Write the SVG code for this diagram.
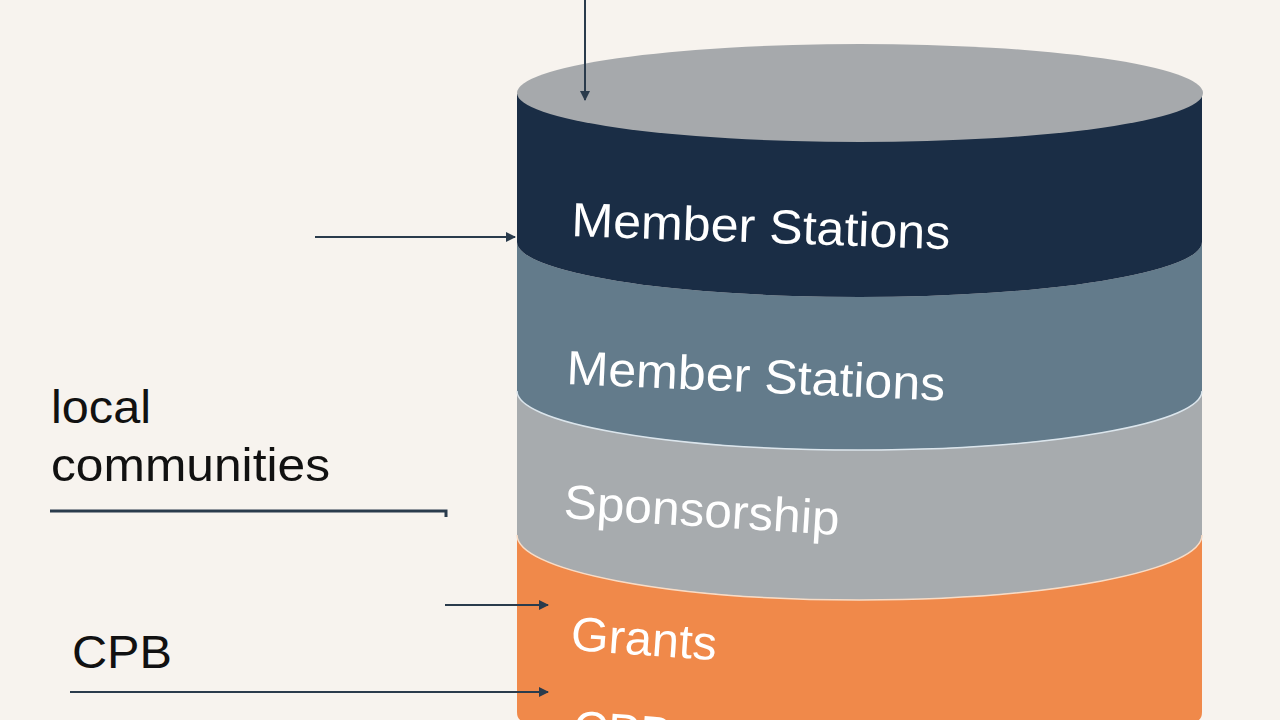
<svg xmlns="http://www.w3.org/2000/svg" width="1280" height="720" viewBox="0 0 1280 720">
<defs>
<marker id="ah" viewBox="0 0 10 10" refX="9" refY="5" markerWidth="5" markerHeight="5" orient="auto" markerUnits="strokeWidth">
<path d="M0,0 L10,5 L0,10 Z" fill="#2a3b4c"/>
</marker>
<style>
.band-label{font-family:"Liberation Sans",Arial,sans-serif;fill:#ffffff;font-size:48px}
.side-label{font-family:"Liberation Sans",Arial,sans-serif;fill:#111111;font-size:47px}
.conn{stroke:#2a3b4c;stroke-width:2;fill:none}
</style>
</defs>
<rect width="1280" height="720" fill="#f7f3ee"/>
<g id="cylinder">
<g id="band-grants-cpb">
<path d="M517,535 A342.5 65 0 0 0 1202,535 L1202,712 Q1202,722 1192,722 L527,722 Q517,722 517,712 Z" fill="#f0894a"/>
<text class="band-label" transform="translate(570,650) rotate(4)" textLength="146" lengthAdjust="spacingAndGlyphs">Grants</text>
<text class="band-label" transform="translate(572,744) rotate(4)">CPB</text>
</g>
<g id="band-sponsorship">
<path d="M517,391 A342.5 59 0 0 0 1202,391 L1202,535 A342.5 65 0 0 1 517,535 Z" fill="#a7abae"/>
<path d="M517,535 A342.5 65 0 0 0 1202,535" fill="none" stroke="#f8dcc6" stroke-width="1.5"/>
<text class="band-label" transform="translate(563,518) rotate(3.5)" textLength="276" lengthAdjust="spacingAndGlyphs">Sponsorship</text>
</g>
<g id="band-member-stations-2">
<path d="M517,242 A342.5 55 0 0 0 1202,242 L1202,391 A342.5 59 0 0 1 517,391 Z" fill="#637b8b"/>
<path d="M517,391 A342.5 59 0 0 0 1202,391" fill="none" stroke="#dbe5ec" stroke-width="1.5"/>
<text class="band-label" transform="translate(566,384) rotate(2.5)" textLength="379" lengthAdjust="spacingAndGlyphs">Member Stations</text>
</g>
<g id="band-member-stations-1">
<path d="M517,94 L1202,94 L1202,242 A342.5 55 0 0 1 517,242 Z" fill="#1a2d45"/>
<text class="band-label" transform="translate(571,236) rotate(2)" textLength="379" lengthAdjust="spacingAndGlyphs">Member Stations</text>
</g>
<g id="top">
<ellipse cx="860" cy="93" rx="343" ry="49" fill="#a6a9ac"/>
</g>
</g>
<g id="left-labels">
<g id="label-local-communities">
<text class="side-label" x="51" y="423" textLength="100" lengthAdjust="spacingAndGlyphs">local</text>
<text class="side-label" x="51" y="481" textLength="279" lengthAdjust="spacingAndGlyphs">communities</text>
</g>
<g id="label-cpb">
<text class="side-label" x="72" y="668" textLength="100" lengthAdjust="spacingAndGlyphs">CPB</text>
</g>
</g>
<g id="connectors">
<line class="conn" x1="585" y1="0" x2="585" y2="100" marker-end="url(#ah)"/>
<line class="conn" x1="315" y1="237" x2="515" y2="237" marker-end="url(#ah)"/>
<path d="M50,511 L446,511 L446,517" stroke="#2a3b4c" stroke-width="3" fill="none"/>
<line class="conn" x1="445" y1="605" x2="548" y2="605" marker-end="url(#ah)"/>
<line class="conn" x1="70" y1="692" x2="548" y2="692" marker-end="url(#ah)"/>
</g>
</svg>
